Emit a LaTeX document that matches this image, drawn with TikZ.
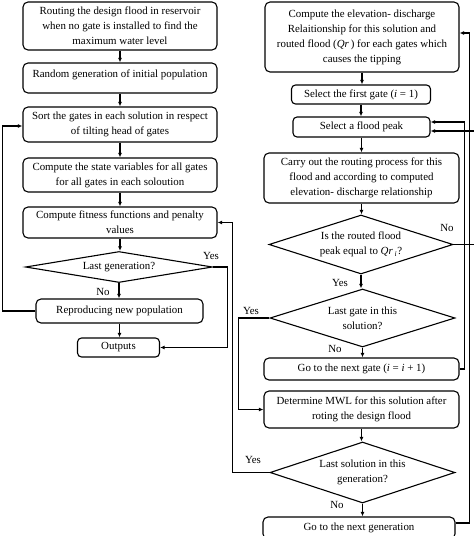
\documentclass[tikz,border=0pt]{standalone}
\usepackage{fontspec}
\setmainfont{Liberation Serif}
\usetikzlibrary{arrows.meta,shapes.geometric}
\begin{document}
\begin{tikzpicture}[x=1pt,y=-1pt,
  font=\fontsize{10.9}{15}\selectfont,
  box/.style={draw, rounded corners=5pt, line width=1.1pt, align=center, inner sep=0pt},
  dia/.style={draw, diamond, line width=1.1pt, align=center, inner sep=0pt},
  arr/.style={line width=1.1pt, -{Latex[length=4.5pt,width=3.8pt]}},
  lab/.style={inner sep=0pt}]
\useasboundingbox (0,0) rectangle (474,536);
\clip (0,0) rectangle (474,536);
% left column
\node[box, minimum width=194pt, minimum height=48pt] (L1) at (120,26) {Routing the design flood in reservoir\\when no gate is installed to find the\\maximum water level};
\node[box, minimum width=194pt, minimum height=30pt, text height=7.5pt, text depth=9.5pt] (L2) at (120,78) {Random generation of initial population};
\node[box, minimum width=194pt, minimum height=35pt] (L3) at (120,124.5) {Sort the gates in each solution in respect\\of tilting head of gates};
\node[box, minimum width=194pt, minimum height=34pt] (L4) at (120,175) {Compute the state variables for all gates\\for all gates in each soloution};
\node[box, minimum width=194pt, minimum height=31pt] (L5) at (120,222.5) {Compute fitness functions and penalty\\values};
\node[dia, minimum width=187pt, minimum height=31pt, shape aspect=6] (D1) at (119,267) {Last generation?};
\node[box, minimum width=167pt, minimum height=24pt] (L6) at (119.5,311) {Reproducing new population};
\node[box, minimum width=82pt, minimum height=19pt, rounded corners=4pt] (L7) at (118.5,347.5) {Outputs};
% right column
\node[box, minimum width=194pt, minimum height=70pt] (R1) at (362,37) {Compute the elevation- discharge\\Relaitionship for this solution and\\routed flood (\textit{Qr}\,) for each gates which\\causes the tipping};
\node[box, minimum width=139pt, minimum height=19pt, rounded corners=4pt] (R2) at (361,94.5) {Select the first gate (\textit{i} = 1)};
\node[box, minimum width=137pt, minimum height=20pt, rounded corners=4pt] (R3) at (361.5,127) {Select a flood peak};
\node[box, minimum width=195pt, minimum height=50pt] (R4) at (361.5,178) {Carry out the routing process for this\\flood and according to computed\\elevation- discharge relationship};
\node[dia, minimum width=184pt, minimum height=59pt, shape aspect=3.1] (D2) at (361,244.5) {Is the routed flood\\peak equal to \textit{Qr}\,\textsubscript{\textit{i}}?};
\node[dia, minimum width=185pt, minimum height=58pt, shape aspect=3.2] (D3) at (362.5,318) {Last gate in this\\solution?};
\node[box, minimum width=195pt, minimum height=22pt] (R5) at (361.5,369) {Go to the next gate (\textit{i} = \textit{i} + 1)};
\node[box, minimum width=195pt, minimum height=37pt] (R6) at (361.5,409.5) {Determine MWL for this solution after\\roting the design flood};
\node[dia, minimum width=185pt, minimum height=61pt, shape aspect=3] (D4) at (362.5,472.5) {Last solution in this\\generation?};
\node[box, minimum width=192pt, minimum height=22pt] (R7) at (359,528) {Go to the next generation};
% vertical arrows left
\draw[arr] (L1.south) -- (L1.south |- L2.north);
\draw[arr] (L2.south) -- (L2.south |- L3.north);
\draw[arr] (L3.south) -- (L3.south |- L4.north);
\draw[arr] (L4.south) -- (L4.south |- L5.north);
\draw[arr] (L5.south) -- (L5.south |- D1.north);
\draw[arr] (D1.south) -- (D1.south |- L6.north);
\draw[arr] (L6.south) -- (L6.south |- L7.north);
% vertical arrows right
\draw[arr] (R1.south) -- (R1.south |- R2.north);
\draw[arr] (R2.south) -- (R2.south |- R3.north);
\draw[arr] (R3.south) -- (R3.south |- R4.north);
\draw[arr] (R4.south) -- (R4.south |- D2.north);
\draw[arr] (D2.south) -- (D2.south |- D3.north);
\draw[arr] (D3.south) -- (D3.south |- R5.north);
\draw[arr] (R6.south) -- (R6.south |- D4.north);
\draw[arr] (D4.south) -- (D4.south |- R7.north);
% loops
\draw[arr] (L6.west) -- ++(-33,0) |- ([yshift=-1.5pt]L3.west);
\draw[arr] (D1.east) -- ++(14,0) |- (L7.east);
\draw[arr] (D4.west) -- ++(-37,0) |- (L5.east);
\draw[arr] (D3.west) -- ++(-31,0) |- (R6.west);
\draw[arr] (D2.east) -- ++(21,0) |- ([yshift=-4pt]R3.east);
\draw[arr] (R5.east) -- ++(4.5,0) |- ([yshift=5pt]R3.east);
\draw[arr] ([yshift=5pt]R7.east) -- ++(14,0) |- ([yshift=4pt]R1.east);
% labels
\node[lab] (y1) at (211,256) {Yes};
\node[lab] (n1) at (103,292) {No};
\node[lab] (n2) at (447,228) {No};
\node[lab] (y2) at (340,283) {Yes};
\node[lab] (y3) at (251,311) {Yes};
\node[lab] (n3) at (335,349) {No};
\node[lab] (y4) at (253,460) {Yes};
\node[lab] (n4) at (337,505) {No};
\end{tikzpicture}
\end{document}
